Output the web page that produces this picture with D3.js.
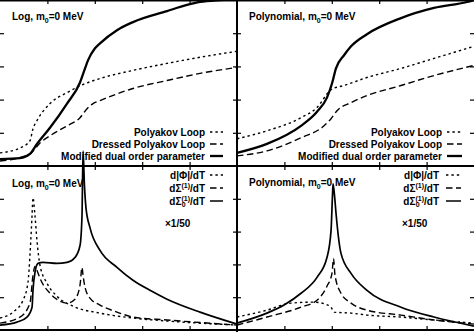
<!DOCTYPE html>
<html><head><meta charset="utf-8">
<script src="https://cdn.jsdelivr.net/npm/d3@7"></script>
<style>
html,body{margin:0;padding:0;background:#fff;}
svg{display:block;}
text{font-family:"Liberation Sans",Arial,Helvetica,sans-serif;font-weight:bold;fill:#000;}
</style></head>
<body><svg id="c" width="474" height="332"></svg>
<script>
// ---- data (T in MeV, values normalised) ----
const tTicks = [150, 200, 250, 300];
const yTicks = [0.2, 0.4, 0.6, 0.8];
const panelTitles = ["Log, m", "Polynomial, m"];
const topLegend = ["Polyakov Loop", "Dressed Polyakov Loop", "Modified dual order parameter"];
const scaleNote = "\u00d71/50";

// top-left: Log
const logPolyakov = [[100,0.079],[121.1,0.109],[131.6,0.152],[134.8,0.224],[139.0,0.273],[152.7,0.376],[170.7,0.442],[187.6,0.491],[205.5,0.527],[240.3,0.576],[276.2,0.618],[311.0,0.655],[350,0.691]];
const logDressed = [[100,0.030],[131.6,0.073],[142.2,0.139],[152.7,0.182],[170.7,0.242],[184.4,0.291],[191.8,0.345],[198.1,0.376],[205.5,0.394],[240.3,0.467],[276.2,0.515],[311.0,0.558],[350,0.594]];
const logDual = [[100,0.042],[121.1,0.048],[131.6,0.073],[139.0,0.133],[152.7,0.230],[170.7,0.376],[184.4,0.503],[189.7,0.588],[192.8,0.636],[200.2,0.709],[205.5,0.739],[223.4,0.818],[240.3,0.867],[276.2,0.933],[297.3,0.970],[311.0,0.988],[332.0,1.0],[350,1.006]];
// top-right: Polynomial
const polyPolyakov = [[100,0.164],[131.6,0.212],[167.5,0.291],[184.4,0.352],[199.2,0.460],[212.9,0.485],[237.1,0.533],[273.0,0.588],[307.8,0.648],[350,0.721]];
const polyDressed = [[100,0.061],[131.6,0.091],[167.5,0.170],[191.8,0.242],[199.2,0.285],[205.5,0.333],[220.3,0.382],[237.1,0.424],[273.0,0.485],[307.8,0.545],[350,0.606]];
const polyDual = [[100,0.079],[131.6,0.133],[167.5,0.242],[184.4,0.327],[194.9,0.412],[200.2,0.497],[204.4,0.588],[212.9,0.667],[220.3,0.721],[237.1,0.794],[273.0,0.891],[307.8,0.952],[342.6,0.988],[350,1.0]];
// bottom-left: Log derivatives
const logDPhi = [[100,0.073],[113.7,0.109],[124.3,0.182],[129.5,0.291],[131.6,0.455],[133.8,0.697],[134.8,0.806],[136.9,0.697],[139.0,0.545],[142.2,0.394],[149.6,0.285],[160.1,0.206],[177.0,0.145],[205.5,0.103],[240.3,0.073],[276.2,0.055],[350,0.030]];
const logDSigma = [[100,0.042],[121.1,0.079],[131.6,0.164],[134.8,0.333],[136.9,0.388],[139.0,0.364],[142.2,0.315],[152.7,0.224],[163.3,0.176],[170.7,0.164],[179.1,0.188],[184.4,0.273],[186.5,0.382],[187.6,0.333],[189.7,0.261],[194.9,0.194],[205.5,0.152],[223.4,0.109],[240.3,0.079],[276.2,0.061],[350,0.030]];
const logDSigma0 = [[100,0.030],[117.9,0.048],[128.5,0.079],[133.8,0.139],[134.8,0.242],[136.9,0.352],[140.1,0.406],[145.4,0.412],[160.1,0.406],[170.7,0.412],[179.1,0.442],[184.4,0.515],[186.5,0.697],[187.6,1.091],[189.1,0.879],[190.7,0.745],[194.9,0.624],[205.5,0.485],[223.4,0.382],[240.3,0.303],[258.2,0.242],[276.2,0.188],[311.0,0.109],[350,0.036]];
// bottom-right: Polynomial derivatives
const polyDPhi = [[100,0.079],[131.6,0.121],[157.0,0.164],[181.2,0.170],[192.8,0.158],[199.2,0.139],[202.3,0.109],[220.3,0.103],[237.1,0.091],[273.0,0.079],[307.8,0.061],[350,0.042]];
const polyDSigma = [[100,0.030],[131.6,0.079],[167.5,0.139],[184.4,0.182],[194.9,0.267],[200.2,0.345],[201.8,0.436],[203.4,0.333],[209.7,0.224],[220.3,0.164],[237.1,0.121],[273.0,0.091],[307.8,0.061],[350,0.036]];
const polyDSigma0 = [[100,0.042],[131.6,0.103],[149.6,0.152],[167.5,0.224],[184.4,0.321],[194.9,0.442],[199.2,0.606],[200.7,0.818],[201.3,0.891],[202.9,0.818],[204.4,0.715],[209.7,0.467],[220.3,0.345],[237.1,0.242],[273.0,0.139],[307.8,0.079],[350,0.024]];

// ---- layout ----
const svg = d3.select("#c");
const W = 474, H = 332, XM = 237, YM = 166, YB = 330;
const dotted = "2.4,3", dashed = "6.5,3.5";
const FS = 10;

const panels = [
  {x0:0, x1:XM, y0:0, y1:YM, title:panelTitles[0], ty:20,
   series:[{d:logPolyakov,dash:dotted,w:1.4},{d:logDressed,dash:dashed,w:1.4},{d:logDual,dash:null,w:2.3}],
   legend:{kind:"top", tx:205, lx0:210, lx1:223}},
  {x0:XM, x1:W, y0:0, y1:YM, title:panelTitles[1], ty:20,
   series:[{d:polyPolyakov,dash:dotted,w:1.4},{d:polyDressed,dash:dashed,w:1.4},{d:polyDual,dash:null,w:2.3}],
   legend:{kind:"top", tx:442, lx0:447, lx1:462}},
  {x0:0, x1:XM, y0:YM, y1:YB, title:panelTitles[0], ty:187,
   series:[{d:logDPhi,dash:dotted,w:1.4},{d:logDSigma,dash:dashed,w:1.4},{d:logDSigma0,dash:null,w:1.7}],
   legend:{kind:"bot", tx:205, lx0:210, lx1:223, nx:165}},
  {x0:XM, x1:W, y0:YM, y1:YB, title:panelTitles[1], ty:186,
   series:[{d:polyDPhi,dash:dotted,w:1.4},{d:polyDSigma,dash:dashed,w:1.4},{d:polyDSigma0,dash:null,w:1.7}],
   legend:{kind:"bot", tx:439, lx0:446, lx1:461, nx:402}}
];

panels.forEach(p => {
  const x = d3.scaleLinear().domain([100, 350]).range([p.x0, p.x1]);
  const y = d3.scaleLinear().domain([0, 1]).range([p.y1, p.y0]);
  const g = svg.append("g");
  const tk = 4;
  g.append("g").attr("transform", `translate(0,${p.y1})`)
    .call(d3.axisBottom(x).tickValues(tTicks).tickSize(-tk).tickFormat(""));
  g.append("g").attr("transform", `translate(0,${p.y0})`)
    .call(d3.axisTop(x).tickValues(tTicks).tickSize(-tk).tickFormat(""));
  g.append("g").attr("transform", `translate(${p.x0},0)`)
    .call(d3.axisLeft(y).tickValues(yTicks).tickSize(-tk).tickFormat(""));
  g.append("g").attr("transform", `translate(${p.x1},0)`)
    .call(d3.axisRight(y).tickValues(yTicks).tickSize(-tk).tickFormat(""));
  g.selectAll(".domain").remove();
  g.selectAll(".tick line").attr("stroke", "#000").attr("stroke-width", 1.2);

  const line = d3.line().x(d => x(d[0])).y(d => y(d[1])).curve(d3.curveMonotoneX);
  p.series.forEach(s => {
    g.append("path").attr("d", line(s.d)).attr("fill", "none")
      .attr("stroke", "#000").attr("stroke-width", s.w)
      .attr("stroke-dasharray", s.dash);
  });

  const t = g.append("text").attr("x", p.x0 + 12).attr("y", p.ty).attr("font-size", FS);
  t.append("tspan").text(p.title);
  t.append("tspan").attr("font-size", 7).attr("dy", 2.5).text("0");
  t.append("tspan").attr("dy", -2.5).text("=0 MeV");

  const L = p.legend;
  if (L.kind === "top") {
    const rows = [135.5, 147.5, 159.5];
    topLegend.forEach((lab, i) => {
      g.append("text").attr("x", L.tx).attr("y", rows[i]).attr("text-anchor", "end")
        .attr("font-size", FS).text(lab);
      const s = p.series[i];
      g.append("line").attr("x1", L.lx0).attr("x2", L.lx1).attr("y1", rows[i] - 3.5).attr("y2", rows[i] - 3.5)
        .attr("stroke", "#000").attr("stroke-width", s.w).attr("stroke-dasharray", s.dash);
    });
  } else {
    const rows = [178.5, 191.5, 204.5];
    g.append("text").attr("x", L.tx).attr("y", rows[0]).attr("text-anchor", "end").attr("font-size", FS)
      .text("d|\u03a6|/dT");
    const t2 = g.append("text").attr("x", L.tx).attr("y", rows[1]).attr("text-anchor", "end").attr("font-size", FS);
    t2.append("tspan").text("d\u03a3");
    t2.append("tspan").attr("font-size", 7).attr("dy", -3.5).text("(1)");
    t2.append("tspan").attr("dy", 3.5).text("/dT");
    const t3 = g.append("text").attr("x", L.tx).attr("y", rows[2]).attr("text-anchor", "end").attr("font-size", FS);
    t3.append("tspan").text("d\u03a3");
    t3.append("tspan").attr("font-size", 7).attr("dy", -3.5).text("(1)");
    t3.append("tspan").attr("dy", 3.5).text("/dT");
    rows.forEach((r, i) => {
      const s = p.series[i];
      g.append("line").attr("x1", L.lx0).attr("x2", L.lx1).attr("y1", r - 3.5).attr("y2", r - 3.5)
        .attr("stroke", "#000").attr("stroke-width", s.w === 1.7 ? 1.5 : s.w).attr("stroke-dasharray", s.dash);
    });
    const sup = t3.selectAll("tspan").nodes()[1];
    const ext = sup.getExtentOfChar(0);
    g.append("text").attr("x", ext.x + 0.3).attr("y", rows[2] + 2.5).attr("font-size", 7).text("0");
    g.append("text").attr("x", L.nx).attr("y", 226.5).attr("font-size", FS).text(scaleNote);
  }
});

const frame = svg.append("g").attr("stroke", "#000").attr("stroke-width", 2);
frame.append("line").attr("x1", 0).attr("x2", W).attr("y1", 0.5).attr("y2", 0.5);
frame.append("line").attr("x1", 0).attr("x2", W).attr("y1", YM).attr("y2", YM);
frame.append("line").attr("x1", 0).attr("x2", W).attr("y1", YB).attr("y2", YB);
frame.append("line").attr("x1", XM).attr("x2", XM).attr("y1", 0).attr("y2", H);
</script></body></html>
